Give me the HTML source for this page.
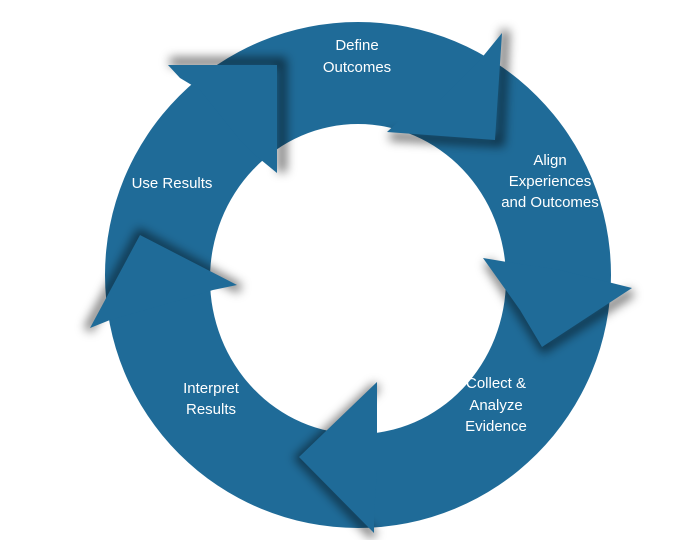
<!DOCTYPE html>
<html><head><meta charset="utf-8"><style>
html,body{margin:0;padding:0;background:#fff;}
svg{display:block}
text{font-family:"Liberation Sans",sans-serif;font-size:15px;fill:#fff;text-anchor:middle}
</style></head><body>
<svg width="700" height="540" viewBox="0 0 700 540" xmlns="http://www.w3.org/2000/svg">
<defs>
<filter id="b" x="-50%" y="-50%" width="200%" height="200%"><feGaussianBlur stdDeviation="5"/></filter>
</defs>
<path fill="#1f6b98" fill-rule="evenodd" d="M105,275 a253,253 0 1,0 506,0 a253,253 0 1,0 -506,0 Z M210,279 a148,155 0 1,0 296,0 a148,155 0 1,0 -296,0 Z"/>
<g stroke="#000" stroke-opacity="0.55" stroke-width="9" fill="none" filter="url(#b)">
<polyline points="170,62 282,62 282,172"/>
<polyline points="505,30 500,142 390,136"/>
<polyline points="488,262 544,348 632,292"/>
<polyline points="377,386 300,458 374,536"/>
<polyline points="240,289 140,234 88,330"/>
</g>
<g fill="#1f6b98">
<polygon points="168,65 277,65 277,173 255,155 240,140 200,90 180,78"/>
<polygon points="502,33 495,140 387,132 400,120 440,100 480,60"/>
<polygon points="483,258 507,262 560,270 632,288 542,347 520,310"/>
<polygon points="377,382 377,407 377,470 374,513 374,533 299,457"/>
<polygon points="140,235 237,285 213,290 180,300 110,320 90,328"/>
</g>
<text x="357" y="50">Define</text>
<text x="357" y="72">Outcomes</text>
<text x="550" y="165">Align</text>
<text x="550" y="186">Experiences</text>
<text x="550" y="207">and Outcomes</text>
<text x="172" y="188">Use Results</text>
<text x="211" y="393">Interpret</text>
<text x="211" y="414">Results</text>
<text x="496" y="388">Collect &amp;</text>
<text x="496" y="410">Analyze</text>
<text x="496" y="431">Evidence</text>
</svg>
</body></html>
